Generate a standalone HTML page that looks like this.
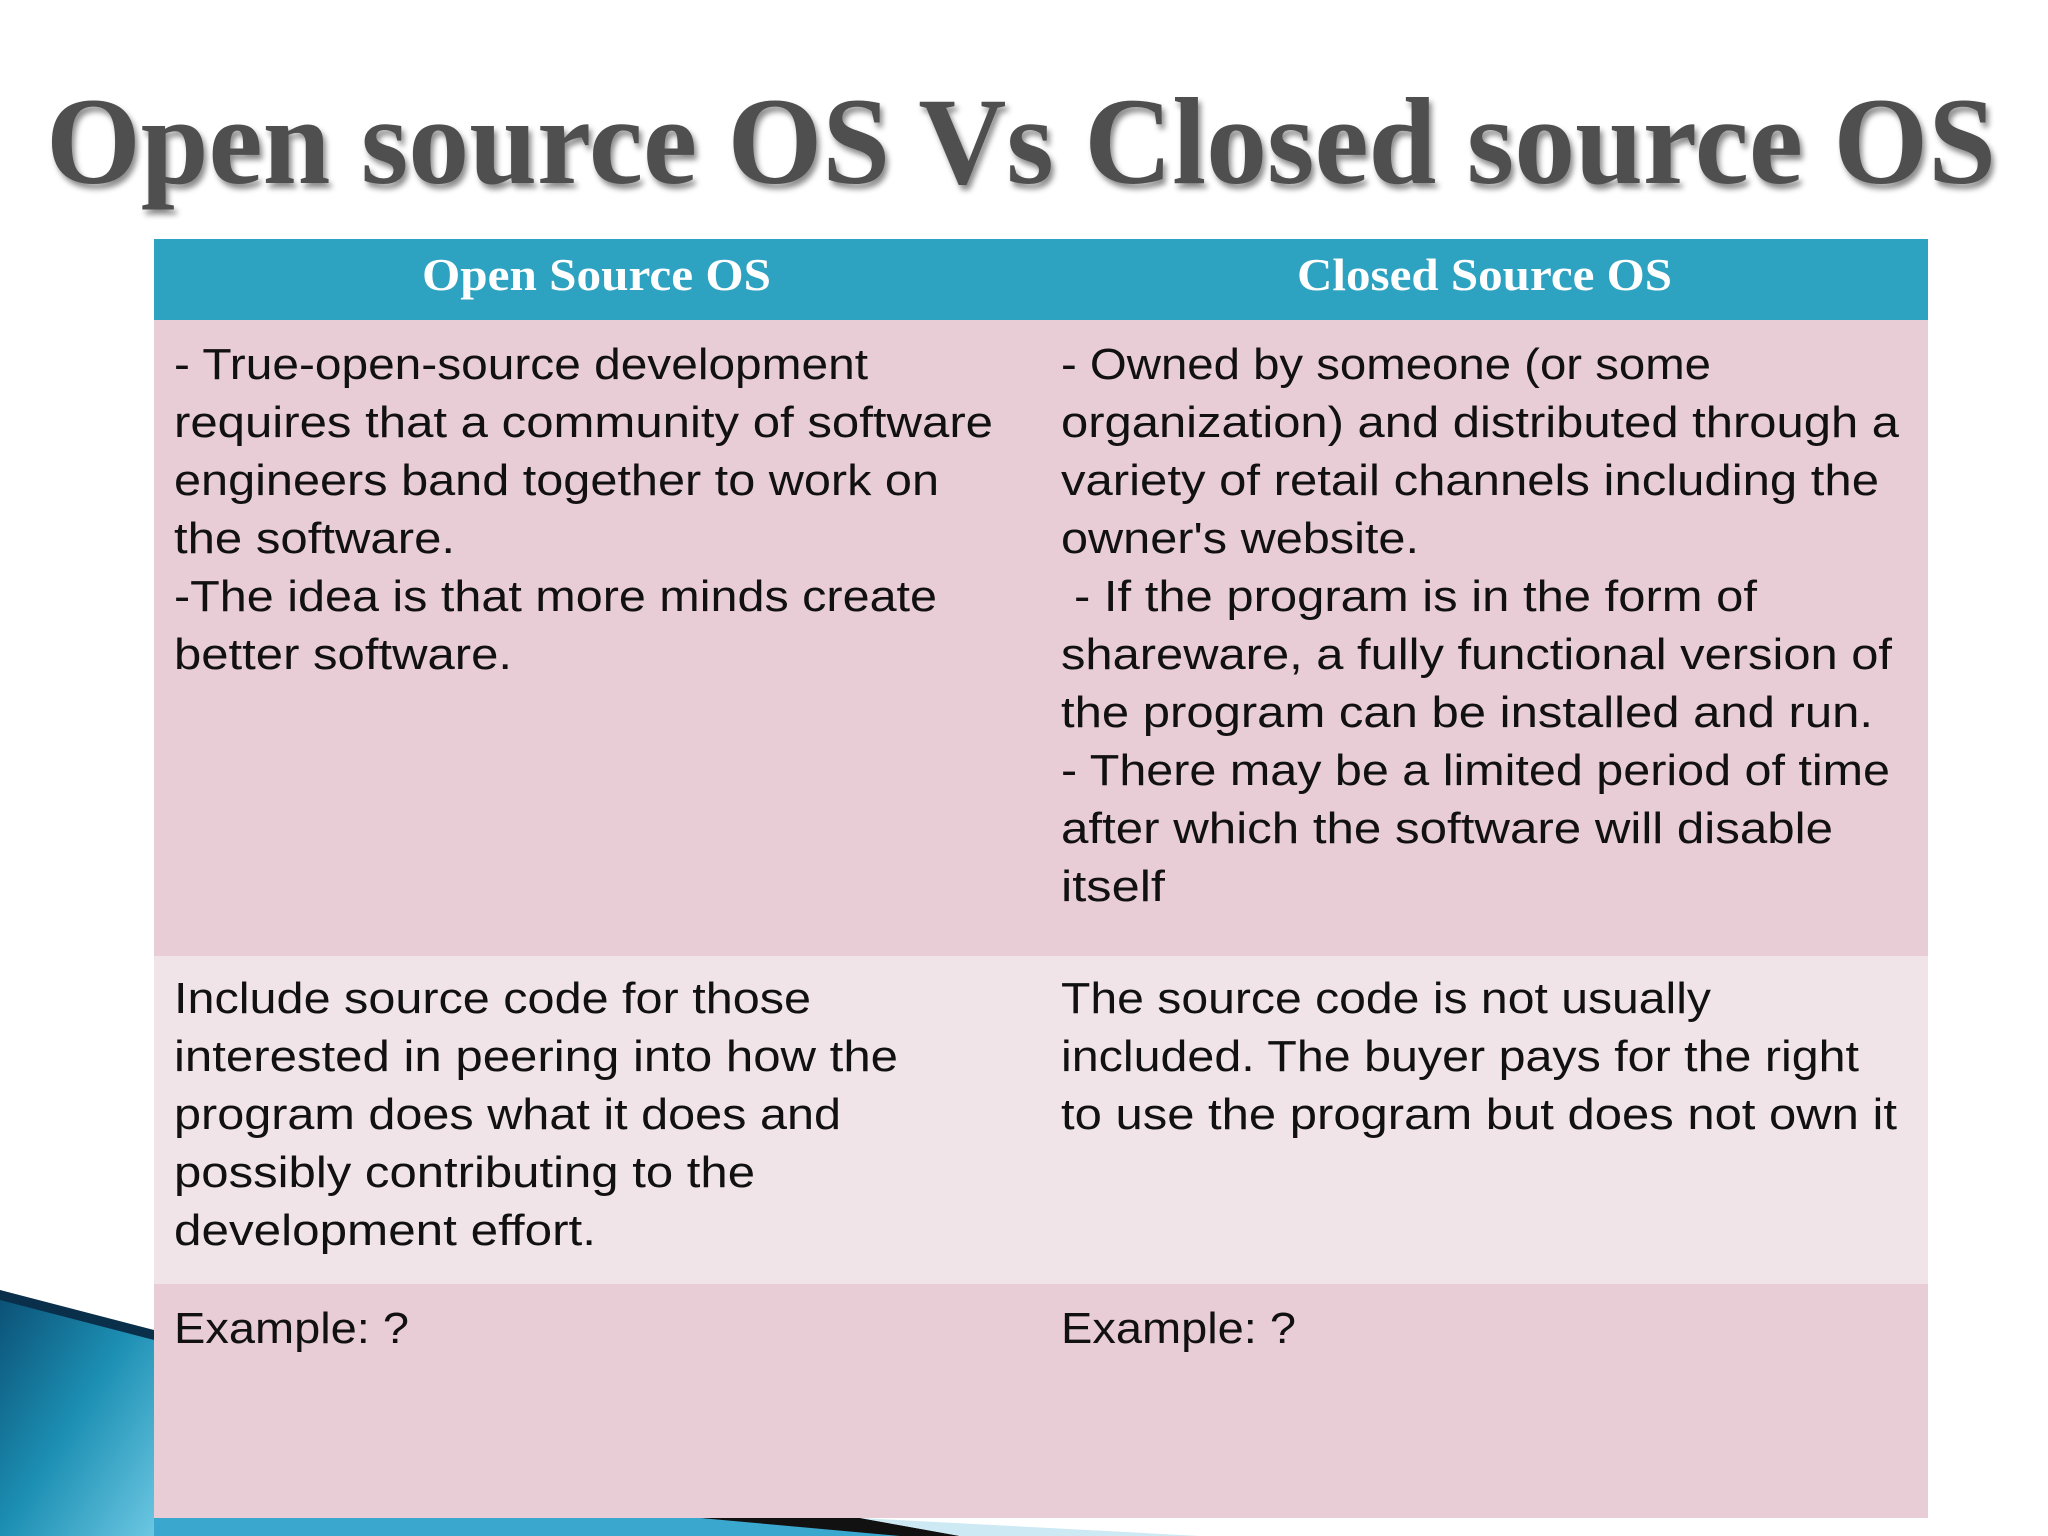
<!DOCTYPE html>
<html><head><meta charset="utf-8"><style>
html,body{margin:0;padding:0;background:#fff;}
svg{display:block}
.b{font-family:"Liberation Sans",sans-serif;font-size:44px;fill:#111;}
.h{font-family:"Liberation Serif",serif;font-weight:bold;font-size:46px;fill:#fff;}
</style></head><body>
<svg width="2048" height="1536" viewBox="0 0 2048 1536" xmlns="http://www.w3.org/2000/svg">
<defs>
<linearGradient id="sw" x1="0" y1="0" x2="1" y2="1">
<stop offset="0" stop-color="#0b4f74"/><stop offset="0.5" stop-color="#1c8fb3"/><stop offset="1" stop-color="#6cc7e2"/>
</linearGradient>
<filter id="sh" x="-5%" y="-20%" width="110%" height="150%"><feDropShadow dx="3" dy="5" stdDeviation="3" flood-color="#000" flood-opacity="0.45"/></filter>
</defs>
<rect width="2048" height="1536" fill="#fff"/>
<!-- decoration -->
<polygon points="0,1290 154,1340 154,1536 0,1536" fill="url(#sw)"/>
<polygon points="0,1290 154,1330 154,1340 0,1300" fill="#0a2f4a"/>
<polygon points="154,1518 700,1518 940,1536 154,1536" fill="#3aa7cf"/>
<polygon points="700,1518 860,1518 960,1536 900,1536" fill="#111"/>
<polygon points="860,1518 1200,1536 960,1536" fill="#cde9f3"/>
<!-- title -->
<text x="46" y="183" textLength="1950" lengthAdjust="spacingAndGlyphs" filter="url(#sh)" style="font-family:'Liberation Serif',serif;font-weight:bold;font-size:124px;fill:#505050">Open source OS Vs Closed source OS</text>
<!-- table -->
<rect x="154" y="239" width="1774" height="81" fill="#2ea2c1"/>
<rect x="154" y="320" width="1774" height="636" fill="#e8ccd6"/>
<rect x="154" y="956" width="1774" height="328" fill="#f1e4e9"/>
<rect x="154" y="1284" width="1774" height="234" fill="#e8ccd6"/>
<text class="h" x="422" y="290" textLength="349" lengthAdjust="spacingAndGlyphs">Open Source OS</text>
<text class="h" x="1297" y="290" textLength="375" lengthAdjust="spacingAndGlyphs">Closed Source OS</text>
<g class="b">
<text x="174" y="379" textLength="694" lengthAdjust="spacingAndGlyphs">- True-open-source development</text>
<text x="174" y="437" textLength="819" lengthAdjust="spacingAndGlyphs">requires that a community of software</text>
<text x="174" y="495" textLength="765" lengthAdjust="spacingAndGlyphs">engineers band together to work on</text>
<text x="174" y="553" textLength="281" lengthAdjust="spacingAndGlyphs">the software.</text>
<text x="174" y="611" textLength="763" lengthAdjust="spacingAndGlyphs">-The idea is that more minds create</text>
<text x="174" y="669" textLength="338" lengthAdjust="spacingAndGlyphs">better software.</text>

<text x="1061" y="379" textLength="650" lengthAdjust="spacingAndGlyphs">- Owned by someone (or some</text>
<text x="1061" y="437" textLength="838" lengthAdjust="spacingAndGlyphs">organization) and distributed through a</text>
<text x="1061" y="495" textLength="818" lengthAdjust="spacingAndGlyphs">variety of retail channels including the</text>
<text x="1061" y="553" textLength="358" lengthAdjust="spacingAndGlyphs">owner's website.</text>
<text x="1074" y="611" textLength="683" lengthAdjust="spacingAndGlyphs">- If the program is in the form of</text>
<text x="1061" y="669" textLength="831" lengthAdjust="spacingAndGlyphs">shareware, a fully functional version of</text>
<text x="1061" y="727" textLength="812" lengthAdjust="spacingAndGlyphs">the program can be installed and run.</text>
<text x="1061" y="785" textLength="829" lengthAdjust="spacingAndGlyphs">- There may be a limited period of time</text>
<text x="1061" y="843" textLength="772" lengthAdjust="spacingAndGlyphs">after which the software will disable</text>
<text x="1061" y="901" textLength="104" lengthAdjust="spacingAndGlyphs">itself</text>

<text x="174" y="1013" textLength="637" lengthAdjust="spacingAndGlyphs">Include source code for those</text>
<text x="174" y="1071" textLength="724" lengthAdjust="spacingAndGlyphs">interested in peering into how the</text>
<text x="174" y="1129" textLength="667" lengthAdjust="spacingAndGlyphs">program does what it does and</text>
<text x="174" y="1187" textLength="581" lengthAdjust="spacingAndGlyphs">possibly contributing to the</text>
<text x="174" y="1245" textLength="422" lengthAdjust="spacingAndGlyphs">development effort.</text>

<text x="1061" y="1013" textLength="650" lengthAdjust="spacingAndGlyphs">The source code is not usually</text>
<text x="1061" y="1071" textLength="798" lengthAdjust="spacingAndGlyphs">included. The buyer pays for the right</text>
<text x="1061" y="1129" textLength="836" lengthAdjust="spacingAndGlyphs">to use the program but does not own it</text>

<text x="174" y="1343" textLength="235" lengthAdjust="spacingAndGlyphs">Example: ?</text>
<text x="1061" y="1343" textLength="235" lengthAdjust="spacingAndGlyphs">Example: ?</text>
</g>
</svg>
</body></html>
